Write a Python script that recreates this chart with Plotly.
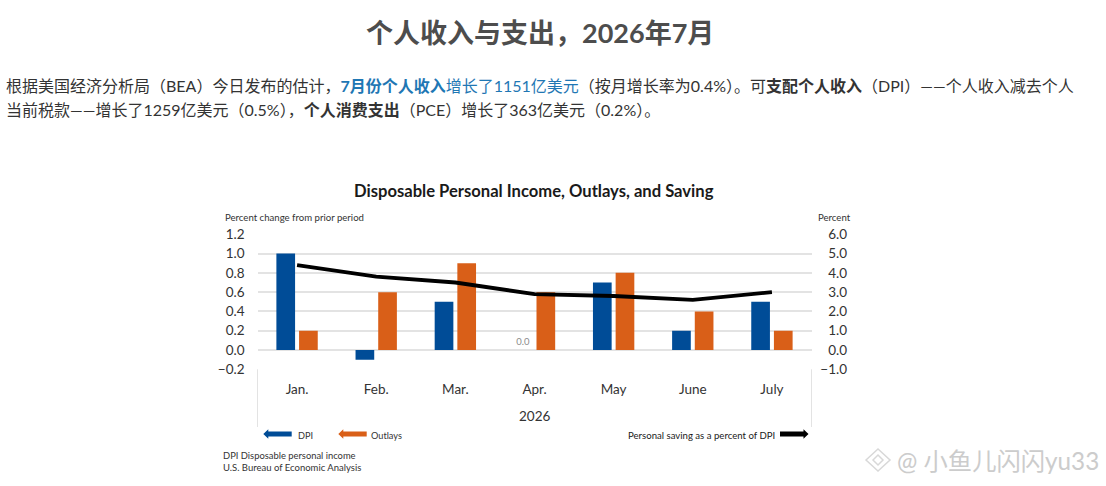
import plotly.graph_objects as go

W = 1106
H = 486

months = ["Jan.", "Feb.", "Mar.", "Apr.", "May", "June", "July"]
dpi = [1.0, -0.1, 0.5, 0.0, 0.7, 0.2, 0.5]
outlays = [0.2, 0.6, 0.9, 0.6, 0.8, 0.4, 0.2]
saving = [4.4, 3.8, 3.5, 2.9, 2.8, 2.6, 3.0]
dpi_labels = ["", "", "", "0.0", "", "", ""]
left_ticks = [-0.2, 0.0, 0.2, 0.4, 0.6, 0.8, 1.0, 1.2]
left_labels = ["\u22120.2", "0.0", "0.2", "0.4", "0.6", "0.8", "1.0", "1.2"]
right_ticks = [-1, 0, 1, 2, 3, 4, 5, 6]
right_labels = ["\u22121.0", "0.0", "1.0", "2.0", "3.0", "4.0", "5.0", "6.0"]

BLUE = "#004c97"
ORANGE = "#d95f18"
GRID = "#e3e3e3"
FONT = "Lato, 'Noto Sans CJK SC', sans-serif"


def px(x):
    return x / W


def py(y):
    return 1 - y / H


def text(x, y, s, size, color="#333333", anchor="left"):
    return dict(x=px(x), y=py(y), xref="paper", yref="paper", text=s, showarrow=False,
                xanchor=anchor, yanchor="middle", borderpad=0, borderwidth=0,
                font=dict(size=size, color=color, family=FONT))


def arrow(x_tip, x_tail, y, color):
    # legend arrow, head is 5px long whichever way it points
    base = x_tip + (5 if x_tail > x_tip else -5)
    pts = [(x_tip, y), (base, y - 4.7), (base, y - 2.4), (x_tail, y - 2.4),
           (x_tail, y + 2.4), (base, y + 2.4), (base, y + 4.7)]
    path = "M " + " L ".join(f"{px(a)} {py(b)}" for a, b in pts) + " Z"
    return dict(type="path", xref="paper", yref="paper", path=path, fillcolor=color, line_width=0)


fig = go.Figure()
fig.add_trace(go.Bar(x=months, y=dpi, name="DPI", marker=dict(color=BLUE, line_width=0),
                     text=dpi_labels, textposition="outside", cliponaxis=False,
                     textfont=dict(size=9.5, color="#8c8c8c", family=FONT)))
fig.add_trace(go.Bar(x=months, y=outlays, name="Outlays", marker=dict(color=ORANGE, line_width=0)))
fig.add_trace(go.Scatter(x=months, y=saving, yaxis="y2", mode="lines", name="Saving",
                         line=dict(color="black", width=3.8)))

notes = [
    text(540, 32, "<b>个人收入与支出，2026年7月</b>", 27, "#4d4d4d", "center"),
    text(6, 85, "根据美国经济分析局（BEA）今日发布的估计，"
                "<span style='color:#1f77b4'><b>7月份个人收入</b>增长了1151亿美元</span>"
                "（按月增长率为0.4%）。可<b>支配个人收入</b>（DPI）——个人收入减去个人", 16),
    text(6, 110, "当前税款——增长了1259亿美元（0.5%），<b>个人消费支出</b>（PCE）增长了363亿美元（0.2%）。", 16),
    text(533.5, 191, "<b>Disposable Personal Income, Outlays, and Saving</b>", 16.6, "#1a1a1a", "center"),
    text(225, 217, "Percent change from prior period", 9.6),
    text(818, 217, "Percent", 9.6),
    text(534, 416, "2026", 13.5, "#333333", "center"),
    text(298, 435, "DPI", 9.2),
    text(371, 435, "Outlays", 9.2),
    text(775, 435, "Personal saving as a percent of DPI", 9.6, "#1a1a1a", "right"),
    text(223, 455, "DPI Disposable personal income", 9.4),
    text(223, 467, "U.S. Bureau of Economic Analysis", 9.5),
    text(897, 460, "@ 小鱼儿闪闪yu33", 24.3, "#cccccc"),
]

# box under the plot that holds the month labels, legend arrows, watermark icon
frame = [
    dict(type="line", xref="paper", yref="paper", x0=px(257.5), x1=px(257.5), y0=py(369.3), y1=py(427),
         line=dict(color=GRID, width=1)),
    dict(type="line", xref="paper", yref="paper", x0=px(811.5), x1=px(811.5), y0=py(369.3), y1=py(427),
         line=dict(color=GRID, width=1)),
    arrow(263.3, 291.7, 434, BLUE),
    arrow(338.3, 366.7, 434, ORANGE),
    arrow(808.5, 780, 434, "black"),
    dict(type="path", xref="paper", yref="paper", line=dict(color="#d8d8d8", width=1.5),
         path=f"M {px(866)} {py(460)} L {px(878)} {py(449)} L {px(890)} {py(460)} L {px(878)} {py(471)} Z"),
    dict(type="path", xref="paper", yref="paper", line=dict(color="#d8d8d8", width=1.5),
         path=f"M {px(873)} {py(460)} L {px(878)} {py(455)} L {px(883)} {py(460)} L {px(878)} {py(465)} Z"),
]

fig.update_layout(
    width=W,
    height=H,
    margin=dict(l=0, r=0, t=0, b=0, autoexpand=False),
    paper_bgcolor="white",
    plot_bgcolor="white",
    showlegend=False,
    barmode="group",
    bargap=0.427,
    bargroupgap=0.176,
    font=dict(family=FONT, color="#333333"),
    annotations=notes,
    shapes=frame,
    xaxis=dict(domain=[px(257.5), px(811.5)], showgrid=False, ticks="", showline=False, automargin=False,
               tickfont=dict(size=13.5), ticklabelstandoff=10, ticklabelposition="outside"),
    yaxis=dict(domain=[py(369.3), py(234.3)], range=[-0.2, 1.2], tickvals=left_ticks, ticktext=left_labels,
               gridcolor=GRID, gridwidth=1.5, zeroline=False, showline=False, ticks="", automargin=False,
               tickfont=dict(size=13.5), ticklabelstandoff=12),
    yaxis2=dict(domain=[py(369.3), py(234.3)], range=[-1, 6], tickvals=right_ticks, ticktext=right_labels,
                overlaying="y", side="left", anchor="free", position=px(847), showgrid=False, automargin=False,
                zeroline=False, showline=False, ticks="", tickfont=dict(size=13.5)),
)

fig.write_html("out.html", config={"displayModeBar": False},
               post_script="document.body.style.margin='0';")
